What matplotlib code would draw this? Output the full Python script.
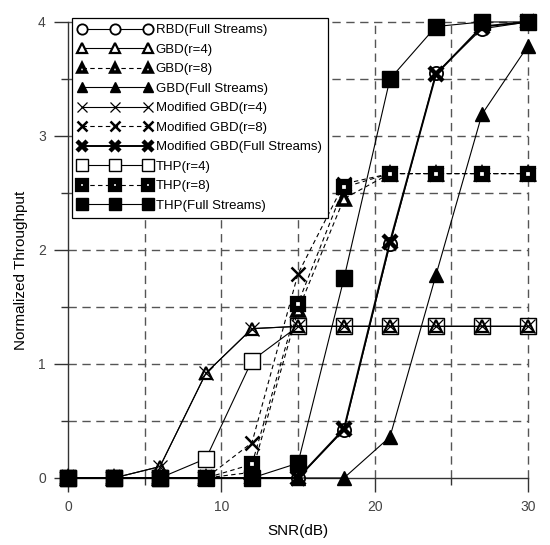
import matplotlib
matplotlib.use("Agg")
import matplotlib.pyplot as plt

plt.rcParams['font.family'] = ['Liberation Sans', 'DejaVu Sans']

# SNR points (dB)
snr = [0, 3, 6, 9, 12, 15, 18, 21, 24, 27, 30]

# normalized throughput
rbd_full = [0, 0, 0, 0, 0, 0, 0.42, 2.05, 3.55, 3.94, 4.0]
gbd_r4 = [0, 0, 0.1, 0.92, 1.31, 1.33, 1.33, 1.33, 1.33, 1.33, 1.33]
gbd_r8 = [0, 0, 0, 0, 0.05, 1.47, 2.45, 2.67, 2.67, 2.67, 2.67]
gbd_full = [0, 0, 0, 0, 0, 0, 0, 0.36, 1.78, 3.19, 3.79]
mgbd_r4 = [0, 0, 0.1, 0.92, 1.31, 1.33, 1.33, 1.33, 1.33, 1.33, 1.33]
mgbd_r8 = [0, 0, 0, 0, 0.31, 1.79, 2.58, 2.67, 2.67, 2.67, 2.67]
mgbd_full = [0, 0, 0, 0, 0, 0, 0.43, 2.07, 3.54, 3.96, 4.0]
thp_r4 = [0, 0, 0, 0.17, 1.03, 1.33, 1.33, 1.33, 1.33, 1.33, 1.33]
thp_r8 = [0, 0, 0, 0, 0.12, 1.53, 2.55, 2.67, 2.67, 2.67, 2.67]
thp_full = [0, 0, 0, 0, 0, 0.13, 1.75, 3.5, 3.96, 4.0, 4.0]

xticks = [0, 10, 20, 30]
yticks = [0, 1, 2, 3, 4]

fig = plt.figure(figsize=(5.5, 5.45), dpi=100)
ax = fig.add_axes([0.0818, 0.0916, 0.9004, 0.8932])
ax.set_xlim(-1.5, 30.8)
ax.set_ylim(-0.15, 4.12)

# dashed grid, only inside the data box
grid_kw = dict(color='#555555', lw=1.0, linestyles=(0, (6, 4)), zorder=1)
ax.vlines([5, 10, 15, 20, 25, 30], 0, 4, **grid_kw)
ax.hlines([0.5, 1, 1.5, 2, 2.5, 3, 3.5, 4], 0, 30, **grid_kw)

dash = (0, (4, 3))
common = dict(color='black', lw=0.8, clip_on=False)

ax.plot(snr, rbd_full, marker='o', ms=9.5, mfc='white', mec='black', mew=1.3,
        label='RBD(Full Streams)', zorder=3, **common)
ax.plot(snr, gbd_r4, marker='^', ms=9, mfc='white', mec='black', mew=1.6,
        label='GBD(r=4)', zorder=3, **common)
ax.plot(snr, gbd_r8, marker='^', ms=8, mfc='white', mec='black', mew=2.6,
        ls=dash, label='GBD(r=8)', zorder=3, **common)
ax.plot(snr, gbd_full, marker='^', ms=10, mfc='black', mec='black',
        label='GBD(Full Streams)', zorder=3, **common)
ax.plot(snr, mgbd_r4, marker='x', ms=10, mec='black', mew=0.9,
        label='Modified GBD(r=4)', zorder=3, **common)
ax.plot(snr, mgbd_r8, marker='x', ms=10, mec='black', mew=1.8, ls=dash,
        label='Modified GBD(r=8)', zorder=3, **common)
ax.plot(snr, mgbd_full, marker='x', ms=9.5, mec='black', mew=3.2,
        label='Modified GBD(Full Streams)', zorder=3,
        **{**common, 'lw': 1.4})
ax.plot(snr, thp_r4, marker='s', ms=11, mfc='white', mec='black', mew=1.0,
        label='THP(r=4)', zorder=2.5, **common)
ax.plot(snr, thp_r8, marker='s', ms=7, mfc='white', mec='black', mew=4.5,
        ls=dash, label='THP(r=8)', zorder=3.5, **common)
ax.plot(snr, thp_full, marker='s', ms=11.5, mfc='black', mec='black',
        label='THP(Full Streams)', zorder=4, **common)

# axes styling
for side in ['top', 'right']:
    ax.spines[side].set_visible(False)
ax.spines['left'].set_position(('data', 0))
ax.spines['bottom'].set_position(('data', 0))
ax.spines['left'].set_bounds(0, 4)
ax.spines['bottom'].set_bounds(0, 30)
for side in ['left', 'bottom']:
    ax.spines[side].set_color('#333333')
    ax.spines[side].set_linewidth(1.0)

ax.set_xticks(xticks)
ax.set_xticks([5, 15, 25], minor=True)
ax.set_yticks(yticks)
ax.set_yticks([0.5, 1.5, 2.5, 3.5], minor=True)
ax.tick_params(which='major', direction='out', length=10, width=1.0,
               color='#333333', labelcolor='#444444', labelsize=10, pad=6)
ax.tick_params(which='minor', direction='out', length=5, width=1.0,
               color='#333333')

ax.set_xlabel('SNR(dB)', fontsize=11)
ax.xaxis.set_label_coords(0.511, -0.06)
ax.set_ylabel('Normalized Throughput', fontsize=11)
ax.yaxis.set_label_coords(-0.034, 0.462)

leg = ax.legend(loc='upper left', bbox_to_anchor=(0.0545, 0.98),
                borderaxespad=0, numpoints=3, markerscale=0.78,
                handlelength=5.6, handletextpad=0.3, labelspacing=0.55,
                fontsize=9.5, fancybox=False, framealpha=1,
                edgecolor='black', borderpad=0.45)
leg.get_frame().set_linewidth(0.9)
leg.set_zorder(10)

fig.savefig('out.png', dpi=100)
